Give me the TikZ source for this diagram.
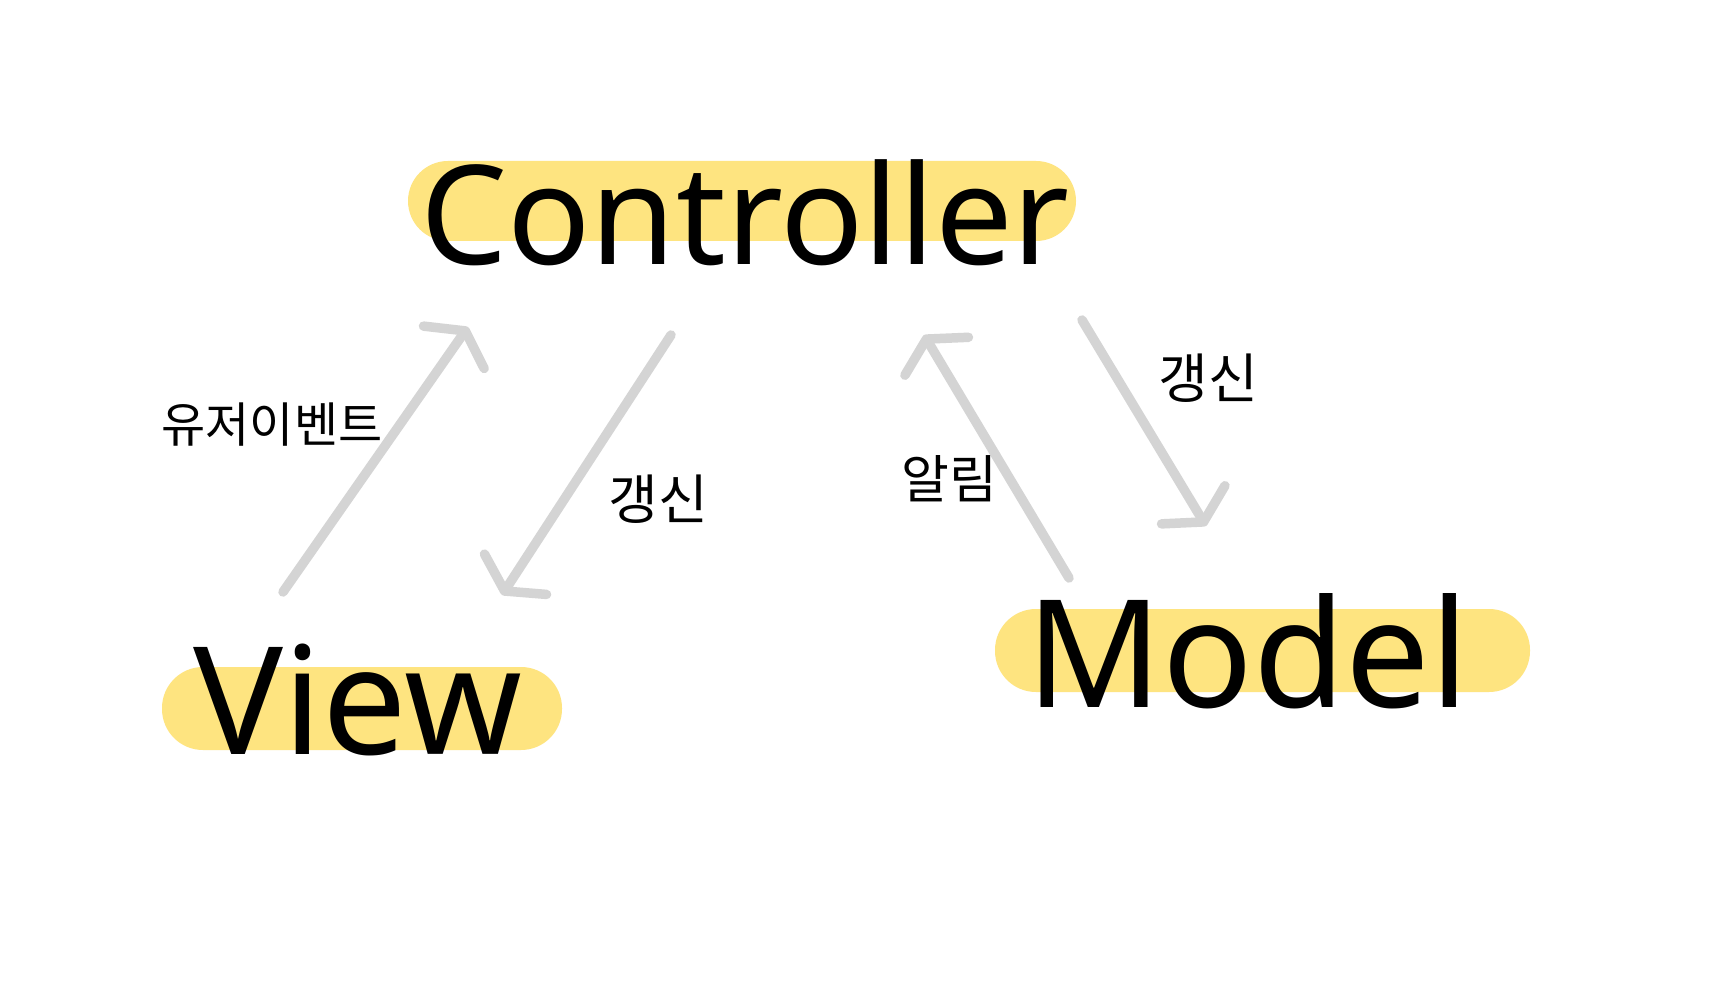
\documentclass[tikz,border=0pt]{standalone}
\usepackage{fontspec}
\setmainfont{Noto Sans}
\newfontfamily\krfont{Noto Sans CJK KR}
\usetikzlibrary{arrows.meta}
\definecolor{hl}{HTML}{FEE480}
\definecolor{arr}{HTML}{D4D4D4}
\begin{document}
\begin{tikzpicture}[x=1pt,y=-1pt,
  word/.style={anchor=base,inner sep=0pt,text=black},
  lbl/.style={inner sep=0pt,text=black,font=\krfont\fontsize{48}{52}\selectfont},
  flow/.style={draw=arr,line width=9.5pt,line cap=round,
    -{Straight Barb[length=20pt,width=74pt,round]}}]
\useasboundingbox[fill=white] (0,0) rectangle (1710,1000);
% highlights
\fill[hl,rounded corners=40pt] (408,161) rectangle (1076,241) node[pos=0.5,inner sep=0pt] (cpill) {};
\fill[hl,rounded corners=41pt] (162,667) rectangle (562,750) node[pos=0.5,inner sep=0pt] (vpill) {};
\fill[hl,rounded corners=41pt] (995,609) rectangle (1530,692) node[pos=0.5,inner sep=0pt] (mpill) {};
% words
\node[word,font=\fontsize{138}{140}\selectfont] (ctrl) at (745,265) {Controller};
\node[word,font=\fontsize{150}{152}\selectfont] (view) at (358,754) {View};
\node[word,font=\fontsize{150}{152}\selectfont] (model) at (1248,707) {Model};
% arrow end points
\coordinate (v1) at (283,592);
\coordinate (c1) at (468,327);
\coordinate (c2) at (671,335);
\coordinate (v2) at (502,595);
\coordinate (m3) at (1069,578);
\coordinate (c3) at (924,335);
\coordinate (c4) at (1082,320);
\coordinate (m4) at (1206,526);
\draw[flow] (v1) -- (c1);
\draw[flow] (c2) -- (v2);
\draw[flow] (m3) -- (c3);
\draw[flow] (c4) -- (m4);
% labels
\node[lbl] (l1) at (272,425) {유저이벤트};
\node[lbl,font=\krfont\fontsize{54}{58}\selectfont] (l2) at (658,499) {갱신};
\node[lbl,font=\krfont\fontsize{52}{56}\selectfont] (l3) at (949,479) {알림};
\node[lbl,font=\krfont\fontsize{54}{58}\selectfont] (l4) at (1208,378) {갱신};
\end{tikzpicture}
\end{document}
